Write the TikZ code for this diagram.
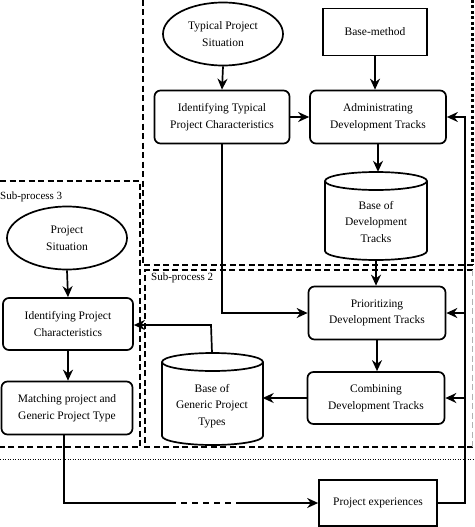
\documentclass[tikz,border=0pt]{standalone}
\usepackage{fontspec}
\setmainfont{Liberation Serif}
\usetikzlibrary{shapes.geometric,arrows.meta}
\begin{document}
\begin{tikzpicture}[x=1pt,y=1pt,
  every node/.style={font=\fontsize{11.5}{16.5}\selectfont, align=center, inner sep=0pt},
  rbox/.style={draw, line width=1.7pt, rounded corners=6pt},
  sbox/.style={draw, line width=1.7pt},
  ell/.style={draw, ellipse, line width=1.7pt},
  cyl/.style={line width=1.7pt},
  conn/.style={line width=1.7pt, -{Stealth[length=11pt,width=10pt]}},
  plain/.style={line width=1.7pt},
  frame/.style={line width=1.1pt, dash pattern=on 6pt off 3.5pt},
  lbl/.style={anchor=west, font=\fontsize{11}{13}\selectfont}
]
\useasboundingbox (0,0) rectangle (474,-527);

% frames
\draw[frame] (143,0) -- (143,-265) -- (473,-265);
\draw[frame, line width=2.2pt, dash pattern=on 3pt off 2.5pt] (472.5,0) -- (472.5,-265);
\draw[frame] (0,-181) -- (140,-181) -- (140,-447) -- (0,-447);
\draw[frame] (473,-447) -- (145,-447) -- (145,-270) -- (473,-270);
\draw[frame, gray!60, line width=1.6pt] (472.5,-270) -- (472.5,-447);
\draw[line width=0.9pt, dash pattern=on 1pt off 1.5pt] (0,-459) -- (474,-459);
\node[lbl] (sp3) at (0,-197) {Sub-process 3};
\node[lbl] (sp2) at (151,-278) {Sub-process 2};

% nodes
\node[ell, minimum width=120pt, minimum height=63pt] (tps) at (223,-34) {Typical Project\\Situation};
\node[sbox, minimum width=104pt, minimum height=47pt] (bm) at (375,-32) {Base-method};
\node[rbox, minimum width=135pt, minimum height=53pt] (itpc) at (222,-117) {Identifying Typical\\Project Characteristics};
\node[rbox, minimum width=136pt, minimum height=53pt] (adt) at (378,-117) {Administrating\\Development Tracks};
\node[minimum width=102pt, minimum height=88pt] (bdt) at (376,-216) {};
\draw[cyl] (325,-181) -- (325,-251) arc (180:360:51 and 9) -- (427,-181);
\draw[cyl] (376,-181) ellipse (51 and 9);
\node (bdtt) at (376,-222) {Base of\\Development\\Tracks};
\node[rbox, minimum width=137pt, minimum height=53pt] (pdt) at (377,-313) {Prioritizing\\Development Tracks};
\node[rbox, minimum width=137pt, minimum height=52pt] (cdt) at (376,-398) {Combining\\Development Tracks};
\node[minimum width=101pt, minimum height=92pt] (bgpt) at (212,-399) {};
\draw[cyl] (162,-362) -- (162,-436) arc (180:360:50.5 and 9) -- (263,-362);
\draw[cyl] (212.5,-362) ellipse (50.5 and 9);
\node (bgptt) at (212,-406) {Base of\\Generic Project\\Types};
\node[ell, minimum width=120pt, minimum height=63pt] (ps) at (67,-238) {Project\\Situation};
\node[rbox, minimum width=130pt, minimum height=52pt] (ipc) at (68,-324) {Identifying Project\\Characteristics};
\node[rbox, minimum width=131pt, minimum height=53pt] (mpg) at (67,-408) {Matching project and\\Generic Project Type};
\node[sbox, minimum width=118pt, minimum height=46pt] (pe) at (378,-503) {Project experiences};

% connectors
\draw[conn] (tps.south) -- (itpc.north);
\draw[conn] (bm.south) -- (bm.south |- adt.north);
\draw[conn] (itpc.east) -- (adt.west);
\draw[conn] (adt.south) -- (adt.south |- bdt.north);
\draw[conn] (bdt.south) -- (bdt.south |- pdt.north);
\draw[conn] (itpc.south) |- (pdt.west);
\draw[conn] (pdt.south) -- (pdt.south |- cdt.north);
\draw[conn] (cdt.west) -- (cdt.west -| bgpt.east);
\coordinate (g1) at (211,-325);
\draw[conn] (bgpt.north) -- (g1) -- (g1 -| ipc.east);
\draw[conn] (ps.south) -- (ipc.north);
\draw[conn] (ipc.south) -- (ipc.south |- mpg.north);
\coordinate (m1) at (64,-503);
\coordinate (d1) at (170,-503);
\coordinate (d2) at (237,-503);
\draw[plain] (64,-434.5) -- (m1) -- (d1);
\draw[plain, dash pattern=on 6pt off 5pt] (d1) -- (d2);
\draw[conn] (d2) -- (pe.west);
\coordinate (r1) at (465,-503);
\coordinate (r2) at (465,-117);
\draw[conn] (pe.east) -- (r1) -- (r2) -- (adt.east);
\draw[conn] (r1 |- pdt.east) -- (pdt.east);
\draw[conn] (r1 |- cdt.east) -- (cdt.east);
\end{tikzpicture}
\end{document}
